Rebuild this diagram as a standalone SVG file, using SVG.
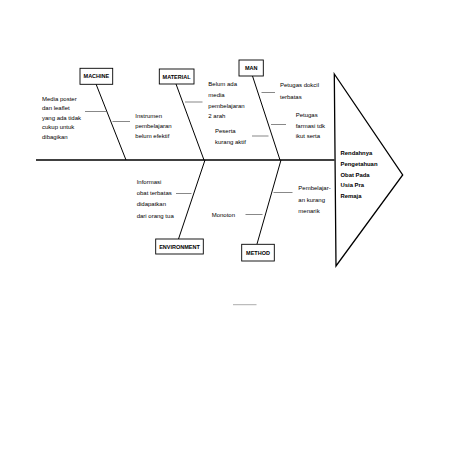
<svg xmlns="http://www.w3.org/2000/svg" width="453" height="453" viewBox="0 0 453 453">
<style>
.box{fill:#fff;stroke:#000;stroke-width:0.9}
.lbl{font-family:"Liberation Sans",Arial,sans-serif;font-size:5.5px;font-weight:bold;fill:#000;text-anchor:middle}
.t{font-family:"Liberation Sans",Arial,sans-serif;font-size:6px;fill:#000}
.tb{font-family:"Liberation Sans",Arial,sans-serif;font-size:5.9px;font-weight:bold;fill:#000}
.bone{stroke:#000;stroke-width:1;fill:none}
.tick{stroke:#555;stroke-width:0.7;fill:none}
</style>
<rect width="453" height="453" fill="#fff"/>
<g id="connectors">
<line class="bone" x1="36" y1="160" x2="334.5" y2="160" style="stroke-width:1.6"/>
<line class="bone" x1="96" y1="84" x2="126" y2="160"/>
<line class="bone" x1="176" y1="84" x2="204" y2="160"/>
<line class="bone" x1="252.5" y1="76" x2="280" y2="160"/>
<line class="bone" x1="178.5" y1="239" x2="205" y2="160"/>
<line class="bone" x1="257" y1="244" x2="281" y2="160"/>
<line class="tick" x1="85" y1="111.5" x2="107" y2="111.5"/>
<line class="tick" x1="112.5" y1="121.5" x2="130" y2="121.5"/>
<line class="tick" x1="185" y1="102" x2="202.5" y2="102"/>
<line class="tick" x1="252" y1="136" x2="268.5" y2="136"/>
<line class="tick" x1="261.5" y1="92.5" x2="275" y2="92.5"/>
<line class="tick" x1="271" y1="124.5" x2="286" y2="124.5"/>
<line class="tick" x1="176" y1="193.5" x2="191.5" y2="193.5"/>
<line class="tick" x1="245.5" y1="214.5" x2="262.5" y2="214.5"/>
<line class="tick" x1="273.5" y1="192.5" x2="292.5" y2="192.5"/>
<line x1="233" y1="304.7" x2="256.5" y2="304.7" stroke="#888" stroke-width="0.7"/>
</g>
<g id="effect">
<polygon points="334.3,74 402.7,175 336,266" fill="#fff" stroke="#000" stroke-width="1.3" stroke-linejoin="miter"/>
<text class="tb" x="340.5" y="154.7">Rendahnya</text>
<text class="tb" x="340.5" y="166.2">Pengetahuan</text>
<text class="tb" x="340.5" y="176.7">Obat Pada</text>
<text class="tb" x="340.5" y="187.3">Usia Pra</text>
<text class="tb" x="340.5" y="198">Remaja</text>
</g>
<g id="machine">
<rect class="box" x="80" y="68.3" width="32.7" height="16"/>
<text class="lbl" x="96.4" y="78.4">MACHINE</text>
</g>
<g id="material">
<rect class="box" x="159.3" y="69" width="34.7" height="15"/>
<text class="lbl" x="176.6" y="78.6">MATERIAL</text>
</g>
<g id="man">
<rect class="box" x="239" y="60" width="24.3" height="16"/>
<text class="lbl" x="251.2" y="70">MAN</text>
</g>
<g id="environment">
<rect class="box" x="155.7" y="239" width="47.6" height="15"/>
<text class="lbl" x="179.5" y="248.6">ENVIRONMENT</text>
</g>
<g id="method">
<rect class="box" x="241.7" y="244.3" width="32.6" height="16.7"/>
<text class="lbl" x="258" y="254.7">METHOD</text>
</g>
<g id="cause-media">
<text class="t" x="42" y="101">Media poster</text>
<text class="t" x="42" y="110.3">dan leaflet</text>
<text class="t" x="42" y="120.3">yang ada tidak</text>
<text class="t" x="42" y="129.3">cukup untuk</text>
<text class="t" x="42" y="139">dibagikan</text>
</g>
<g id="cause-instrumen">
<text class="t" x="135.3" y="118">Instrumen</text>
<text class="t" x="135.3" y="128">pembelajaran</text>
<text class="t" x="135.3" y="138">belum efektif</text>
</g>
<g id="cause-belum">
<text class="t" x="208.3" y="86.3">Belum ada</text>
<text class="t" x="208.3" y="97">media</text>
<text class="t" x="208.3" y="108">pembelajaran</text>
<text class="t" x="208.3" y="118">2 arah</text>
</g>
<g id="cause-peserta">
<text class="t" x="215" y="133">Peserta</text>
<text class="t" x="215" y="143.7">kurang aktif</text>
</g>
<g id="cause-dokcil">
<text class="t" x="280" y="87">Petugas dokcil</text>
<text class="t" x="280" y="99.3">terbatas</text>
</g>
<g id="cause-farmasi">
<text class="t" x="295.7" y="117">Petugas</text>
<text class="t" x="295.7" y="127.7">farmasi tdk</text>
<text class="t" x="295.7" y="138">ikut serta</text>
</g>
<g id="cause-informasi">
<text class="t" x="136.7" y="184.3">Informasi</text>
<text class="t" x="136.7" y="195.3">obat  terbatas</text>
<text class="t" x="136.7" y="206.3">didapatkan</text>
<text class="t" x="136.7" y="218">dari orang tua</text>
</g>
<g id="cause-monoton">
<text class="t" x="211.7" y="217">Monoton</text>
</g>
<g id="cause-pembelajaran">
<text class="t" x="298.3" y="190.3">Pembelajar-</text>
<text class="t" x="298.3" y="202">an kurang</text>
<text class="t" x="298.3" y="213">menarik</text>
</g>
</svg>
